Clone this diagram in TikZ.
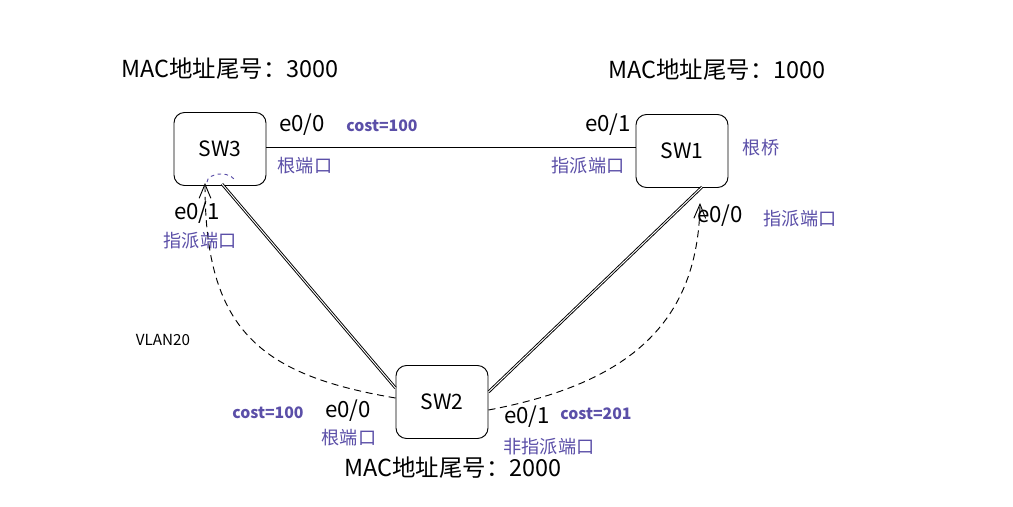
\documentclass[tikz,border=0pt]{standalone}
\usepackage{fontspec}
\setmainfont{Noto Sans CJK SC}
\usetikzlibrary{arrows.meta}
\definecolor{lbl}{HTML}{5B4FA8}
\begin{document}
\begin{tikzpicture}[x=0.03cm,y=-0.03cm,
  sw/.style={draw,thick,rounded corners=9pt,minimum width=92*0.03cm,minimum height=73*0.03cm,font=\fontsize{18}{20}\selectfont},
  big/.style={font=\fontsize{20}{22}\selectfont},
  port/.style={font=\fontsize{19}{21}\selectfont},
  blu/.style={text=lbl,font=\fontsize{15.5}{17}\selectfont},
  cst/.style={text=lbl,font=\fontsize{13.5}{15}\selectfont\bfseries},
  dsh/.style={dashed,thick,dash pattern=on 6pt off 4pt,-{Straight Barb[length=12pt,width=10pt]}}]
\useasboundingbox (0,0) rectangle (1013,506);
\fill[white] (0,0) rectangle (1013,506);
\node[sw] (sw3) at (220,149) {SW3};
\node[sw] (sw1) at (682,151) {SW1};
\node[sw] (sw2) at (442,402) {SW2};
\draw[thick] (sw3.east |- 0,147) -- (sw1.west |- 0,147);
\draw[thick,double,double distance=0.8pt] (222,184) -- (sw2.west |- 0,388);
\draw[thick,double,double distance=0.8pt] (702,187) -- (sw2.east |- 0,392);
\draw[dsh] (sw2.west |- 0,398) .. controls (260,375) and (205,330) .. (205,183);
\draw[dsh] (sw2.east |- 0,410) .. controls (620,385) and (698,330) .. (700,203);
\node[big] (m3) at (230,69) {MAC地址尾号：3000};
\node[big] (m1) at (717,70) {MAC地址尾号：1000};
\node[big] (m2) at (453,468) {MAC地址尾号：2000};
\node[port] (p1) at (302,125) {e0/0};
\node[cst] (c1) at (382,126) {cost=100};
\node[blu] (r1) at (305,166) {根端口};
\node[port] (p2) at (608,125) {e0/1};
\node[blu] (d1) at (588,166) {指派端口};
\node[blu] (rb) at (761,148) {根桥};
\node[port] (p3) at (720,216) {e0/0};
\node[blu] (d2) at (800,219) {指派端口};
\node[port] (p4) at (197,213) {e0/1};
\node[blu] (d3) at (200,241) {指派端口};
\node[font=\fontsize{13}{15}\selectfont] (v) at (163,340) {VLAN20};
\node[cst] (c2) at (268,413) {cost=100};
\node[port] (p5) at (348,411) {e0/0};
\node[blu] (r2) at (349,438) {根端口};
\node[port] (p6) at (527,417) {e0/1};
\node[cst] (c3) at (596,414) {cost=201};
\node[blu] (n) at (549,447) {非指派端口};
\draw[lbl,thick,dashed] (207,182) arc (180:360:14 and 8);
\end{tikzpicture}
\end{document}
